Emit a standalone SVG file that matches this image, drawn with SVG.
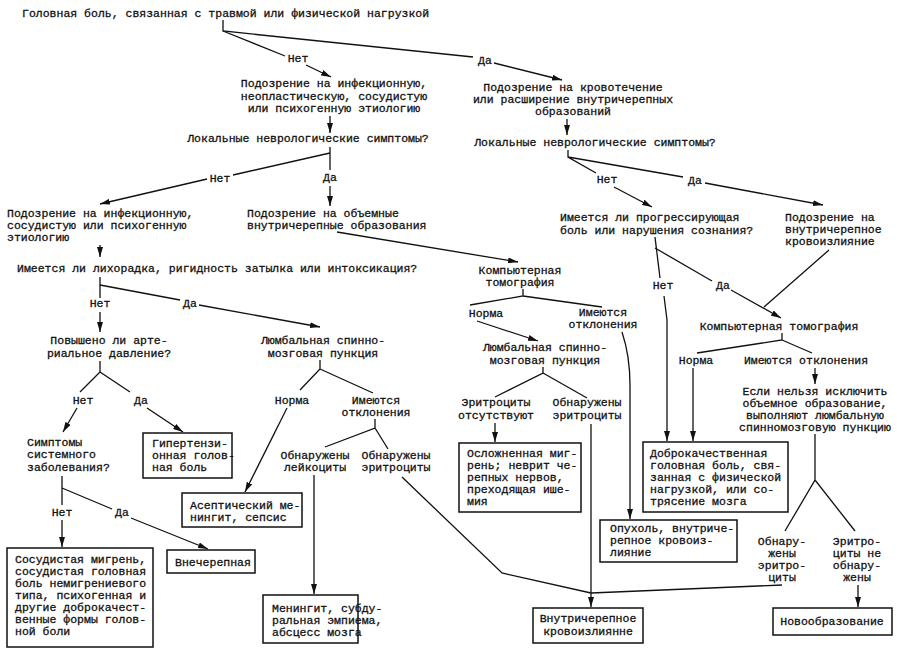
<svg xmlns="http://www.w3.org/2000/svg" width="900" height="655" viewBox="0 0 900 655">
<defs>
<style>
.t{font-family:"Liberation Mono","DejaVu Sans Mono",monospace;font-size:11.5px;fill:#111;stroke:#111;stroke-width:0.3}
.m{text-anchor:middle}
.c{fill:none;stroke:#111;stroke-width:1.3}
.a{marker-end:url(#ah)}
.b{fill:#fff;stroke:#111;stroke-width:1.5}
</style>
<marker id="ah" markerWidth="10" markerHeight="6" refX="10" refY="3" orient="auto" markerUnits="userSpaceOnUse"><path d="M0,0 L10,3 L0,6 Z" fill="#111"/></marker>
</defs>
<rect width="900" height="655" fill="#fff"/>

<g id="connectors">
<path class="c" d="M223,20 V31 L473,57"/>
<path class="c a" d="M494,63 L562,80"/>
<path class="c" d="M223,31 L285,56"/>
<path class="c a" d="M306,65 L331,77"/>
<path class="c a" d="M330,116 V133"/>
<path class="c" d="M330,147 V170"/>
<path class="c a" d="M330,186 V206"/>
<path class="c" d="M330,153 L233,175"/>
<path class="c a" d="M207,179 L100,204"/>
<path class="c a" d="M337,232 L518,262"/>
<path class="c a" d="M100,245 V257"/>
<path class="c" d="M100,277 V298"/>
<path class="c a" d="M100,312 V332"/>
<path class="c" d="M100,285 L180,300"/>
<path class="c a" d="M199,305 L320,327"/>
<path class="c" d="M100,361 V372 L80,392 M100,372 L130,392"/>
<path class="c a" d="M77,408 L63,432"/>
<path class="c a" d="M147,408 L183,432"/>
<path class="c" d="M62,476 V505 M62,488 L112,509"/>
<path class="c a" d="M62,520 V547"/>
<path class="c a" d="M131,518 L208,549"/>
<path class="c" d="M320,360 V369 L300,390 M320,369 L373,393"/>
<path class="c a" d="M287,408 L245,492"/>
<path class="c" d="M375,419 V428 L325,447 M375,428 L388,449"/>
<path class="c a" d="M314,475 V594"/>
<path class="c" d="M402,477 L502,573 L591,593"/>
<path class="c" d="M523,289 V296 L470,305 M523,296 L602,307"/>
<path class="c a" d="M477,321 L538,341"/>
<path class="c a" d="M622,332 C628,350 630,365 630,385 L630,519"/>
<path class="c" d="M543,367 V373 L495,397 M543,373 L587,398"/>
<path class="c a" d="M495,423 V442"/>
<path class="c a" d="M591,424 V607"/>
<path class="c a" d="M567,119 V135"/>
<path class="c" d="M568,150 V157 L596,173 M568,157 L683,177"/>
<path class="c a" d="M614,187 L652,207"/>
<path class="c a" d="M705,183 L823,205"/>
<path class="c" d="M655,237 L660,278"/>
<path class="c a" d="M664,296 L667,320 L667,441"/>
<path class="c" d="M655,248 L712,281"/>
<path class="c a" d="M731,290 L781,318"/>
<path class="c" d="M829,250 L764,307"/>
<path class="c" d="M782,333 V340 L697,353 M782,340 L812,353"/>
<path class="c a" d="M693,368 V441"/>
<path class="c a" d="M815,368 V384"/>
<path class="c" d="M815,434 V480 L785,531 M815,480 L855,531"/>
<path class="c a" d="M858,585 V607"/>
<path class="c" d="M782,585 L591,593"/>
<g class="t m">
<text x="298" y="62">Нет</text>
<text x="485" y="64">Да</text>
<text x="220" y="182">Нет</text>
<text x="330" y="181">Да</text>
<text x="607" y="183">Нет</text>
<text x="695" y="184">Да</text>
<text x="100" y="307">Нет</text>
<text x="190" y="307">Да</text>
<text x="83" y="404">Нет</text>
<text x="141" y="404">Да</text>
<text x="62" y="516">Нет</text>
<text x="122" y="516">Да</text>
<text x="663" y="289">Нет</text>
<text x="723" y="289">Да</text>
</g>
</g>

<g id="n_title"><text class="t" x="22" y="17">Головная боль, связанная с травмой или физической нагрузкой</text></g>
<g id="n_infect1"><text class="t m"><tspan x="334" y="87">Подозрение на инфекционную,</tspan><tspan x="334" y="100">неопластическую, сосудистую</tspan><tspan x="334" y="112">или психогенную этиологию</tspan></text></g>
<g id="n_local1"><text class="t m" x="308" y="142">Локальные неврологические симптомы?</text></g>
<g id="n_bleed"><text class="t m"><tspan x="573" y="91">Подозрение на кровотечение</tspan><tspan x="573" y="103">или расширение внутричерепных</tspan><tspan x="573" y="115">образований</tspan></text></g>
<g id="n_local2"><text class="t m" x="595" y="146">Локальные неврологические симптомы?</text></g>
<g id="n_infect2"><text class="t"><tspan x="7" y="217">Подозрение на инфекционную,</tspan><tspan x="7" y="229">сосудистую или психогенную</tspan><tspan x="7" y="241">этиологию</tspan></text></g>
<g id="n_mass"><text class="t"><tspan x="247" y="217">Подозрение на объемные</tspan><tspan x="247" y="229">внутричерепные образования</tspan></text></g>
<g id="n_progress"><text class="t"><tspan x="560" y="221">Имеется ли прогрессирующая</tspan><tspan x="560" y="234">боль или нарушения сознания?</tspan></text></g>
<g id="n_ich_susp"><text class="t"><tspan x="785" y="221">Подозрение на</tspan><tspan x="785" y="233">внутричерепное</tspan><tspan x="785" y="245">кровоизлияние</tspan></text></g>
<g id="n_fever"><text class="t" x="17" y="272">Имеется ли лихорадка, ригидность затылка или интоксикация?</text></g>
<g id="n_ct1"><text class="t m"><tspan x="520" y="274">Компьютерная</tspan><tspan x="520" y="286">томография</tspan></text></g>
<g id="n_ct1_norm"><text class="t m" x="486" y="317">Норма</text></g>
<g id="n_ct1_abn"><text class="t m"><tspan x="603" y="316">Имеются</tspan><tspan x="603" y="328">отклонения</tspan></text></g>
<g id="n_ct2"><text class="t m" x="779" y="330">Компьютерная томография</text></g>
<g id="n_ct2_norm"><text class="t m" x="696" y="364">Норма</text></g>
<g id="n_ct2_abn"><text class="t m" x="806" y="364">Имеются отклонения</text></g>
<g id="n_bp"><text class="t m"><tspan x="109" y="344">Повышено ли арте-</tspan><tspan x="109" y="357">риальное давление?</tspan></text></g>
<g id="n_lp1"><text class="t m"><tspan x="323" y="344">Люмбальная спинно-</tspan><tspan x="323" y="357">мозговая пункция</tspan></text></g>
<g id="n_lp1_norm"><text class="t m" x="292" y="404">Норма</text></g>
<g id="n_lp1_abn"><text class="t m"><tspan x="376" y="404">Имеются</tspan><tspan x="376" y="416">отклонения</tspan></text></g>
<g id="n_leuk"><text class="t m"><tspan x="315" y="459">Обнаружены</tspan><tspan x="315" y="471">лейкоциты</tspan></text></g>
<g id="n_eryth1"><text class="t m"><tspan x="396" y="459">Обнаружены</tspan><tspan x="396" y="471">эритроциты</tspan></text></g>
<g id="n_sys"><text class="t"><tspan x="27" y="446">Симптомы</tspan><tspan x="27" y="458">системного</tspan><tspan x="27" y="471">заболевания?</tspan></text></g>
<g id="n_hyper"><rect class="b" x="143" y="433" width="89" height="45"/><text class="t"><tspan x="152" y="447">Гипертензи-</tspan><tspan x="152" y="459">онная голов-</tspan><tspan x="152" y="471">ная боль</tspan></text></g>
<g id="n_lp2"><text class="t m"><tspan x="545" y="351">Люмбальная спинно-</tspan><tspan x="545" y="364">мозговая пункция</tspan></text></g>
<g id="n_noeryth"><text class="t m"><tspan x="496" y="406">Эритроциты</tspan><tspan x="496" y="419">отсутствуют</tspan></text></g>
<g id="n_eryth2"><text class="t m"><tspan x="587" y="406">Обнаружены</tspan><tspan x="587" y="419">эритроциты</tspan></text></g>
<g id="n_compl"><rect class="b" x="459" y="443" width="122" height="69"/><text class="t"><tspan x="467" y="457">Осложненная миг-</tspan><tspan x="467" y="469">рень; неврит че-</tspan><tspan x="467" y="481">репных нервов,</tspan><tspan x="467" y="493">преходящая ише-</tspan><tspan x="467" y="505">мия</tspan></text></g>
<g id="n_benign"><rect class="b" x="643" y="442" width="145" height="70"/><text class="t"><tspan x="650" y="457">Доброкачественная</tspan><tspan x="650" y="469">головная боль, свя-</tspan><tspan x="650" y="481">занная с физической</tspan><tspan x="650" y="493">нагрузкой, или со-</tspan><tspan x="650" y="505">трясение мозга</tspan></text></g>
<g id="n_tumor"><rect class="b" x="600" y="520" width="137" height="42"/><text class="t"><tspan x="610" y="532">Опухоль, внутриче-</tspan><tspan x="610" y="544">репное кровоиз-</tspan><tspan x="610" y="556">лияние</tspan></text></g>
<g id="n_ifnot"><text class="t m"><tspan x="815" y="395">Если нельзя исключить</tspan><tspan x="815" y="407">объемное образование,</tspan><tspan x="815" y="419">выполняют люмбальную</tspan><tspan x="815" y="431">спинномозговую пункцию</tspan></text></g>
<g id="n_aseptic"><rect class="b" x="182" y="493" width="120" height="34"/><text class="t"><tspan x="190" y="509">Асептический ме-</tspan><tspan x="190" y="521">нингит, сепсис</tspan></text></g>
<g id="n_vasc"><rect class="b" x="7" y="548" width="146" height="99"/><text class="t"><tspan x="15" y="563">Сосудистая мигрень,</tspan><tspan x="15" y="575">сосудистая головная</tspan><tspan x="15" y="587">боль немигрениевого</tspan><tspan x="15" y="599">типа, психогенная и</tspan><tspan x="15" y="611">другие доброкачест-</tspan><tspan x="15" y="623">венные формы голов-</tspan><tspan x="15" y="635">ной боли</tspan></text></g>
<g id="n_extra"><rect class="b" x="167" y="550" width="88" height="23"/><text class="t" x="175" y="566">Внечерепная</text></g>
<g id="n_mening"><rect class="b" x="263" y="595" width="95" height="48"/><text class="t"><tspan x="272" y="612">Менингит, субду-</tspan><tspan x="272" y="624">ральная эмпиема,</tspan><tspan x="272" y="636">абсцесс мозга</tspan></text></g>
<g id="n_ich"><rect class="b" x="533" y="608" width="110" height="35"/><text class="t m"><tspan x="588" y="622">Внутричерепное</tspan><tspan x="588" y="635">кровоизлиянне</tspan></text></g>
<g id="n_eryth3"><text class="t m"><tspan x="782" y="545">Обнару-</tspan><tspan x="782" y="557">жены</tspan><tspan x="782" y="569">эритро-</tspan><tspan x="782" y="581">циты</tspan></text></g>
<g id="n_noeryth3"><text class="t m"><tspan x="857" y="545">Эритро-</tspan><tspan x="857" y="557">циты не</tspan><tspan x="857" y="569">обнару-</tspan><tspan x="857" y="581">жены</tspan></text></g>
<g id="n_neo"><rect class="b" x="773" y="608" width="119" height="27"/><text class="t m" x="832" y="625">Новообразование</text></g>
</svg>
